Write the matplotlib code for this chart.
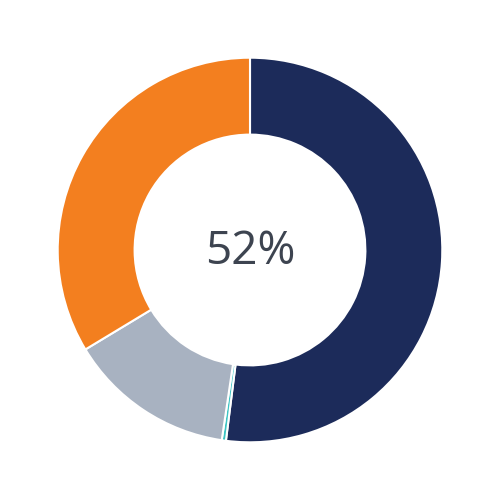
import matplotlib
matplotlib.use("Agg")
import matplotlib.pyplot as plt

labels = ["Navy", "Teal", "Gray", "Orange"]
values = [52.0, 0.35, 14.0, 33.65]
colors = ["#1c2b5a", "#3cc4c4", "#a8b2c1", "#f37f1f"]
center_text = "52%"

fig = plt.figure(figsize=(5, 5), dpi=100)
ax = fig.add_axes([0, 0, 1, 1])
ax.pie(values, colors=colors, startangle=90, counterclock=False, radius=1.0,
       wedgeprops=dict(width=0.40, edgecolor="white", linewidth=1.5))
ax.text(0, -0.01, center_text, ha="center", va="center", fontsize=33,
        color="#3d4450", family="Open Sans")
ax.set_xlim(-1.3, 1.3)
ax.set_ylim(-1.3, 1.3)
ax.set_aspect("equal")
ax.axis("off")
fig.savefig("out.png", dpi=100, facecolor="white")
